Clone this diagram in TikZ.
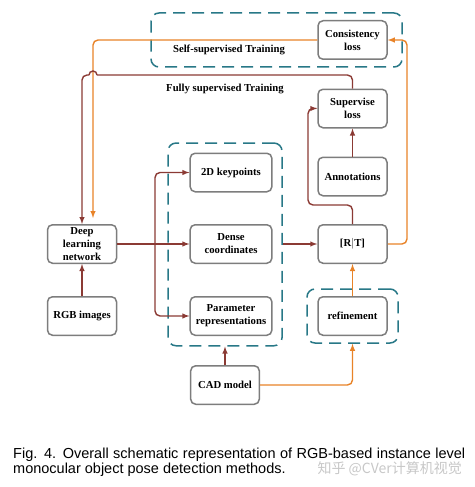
\documentclass[tikz,border=0pt]{standalone}
\usepackage{amssymb}
\usepackage{pgf, tikz}
\usepackage{xcolor}
\usepackage{fontspec}
\setmainfont{Liberation Serif}
\newfontfamily\capfont{Liberation Sans}
\newfontfamily\cjk{Noto Sans CJK SC}
\definecolor{brn}{RGB}{139,58,52}
\definecolor{orng}{RGB}{232,131,40}
\definecolor{tealdash}{RGB}{40,120,135}
\definecolor{bord}{RGB}{125,125,125}
\tikzset{
box/.style={draw=bord, line width=1.5pt, rounded corners=5pt, fill=white, minimum width=69pt, minimum height=38.5pt, inner sep=0pt, align=center, font=\bfseries\fontsize{10.7}{13}\selectfont},
grp/.style={draw=tealdash, line width=1.5pt, dash pattern=on 12pt off 7pt, rounded corners=8pt, inner sep=0pt},
brline/.style={draw=brn, line width=1.4pt, rounded corners=5pt},
orline/.style={draw=orng, line width=1.4pt, rounded corners=5pt},
lbl/.style={font=\bfseries\fontsize{10.7}{13}\selectfont}
}

\begin{document}
\begin{tikzpicture}[x=1pt,y=-1pt,>=latex]
\useasboundingbox (0,0) rectangle (474,487);

\node[grp, minimum width=251pt, minimum height=54pt](g1) at (276.5,40){};
\node[grp, minimum width=114pt, minimum height=202.7pt](g2) at (225,244.4){};
\node[grp, minimum width=91pt, minimum height=54pt](g3) at (352.5,316){};

\node[box](1) at (352.5,40){Consistency\\loss};
\node[box](2) at (352.5,108.5){Supervise\\loss};
\node[box](3) at (352.5,176.5){Annotations};
\node[box, minimum width=81.7pt](4) at (231,172.5){2D keypoints};
\node[box, minimum width=81.7pt](5) at (231,244){Dense\\coordinates};
\node[box, minimum width=81.7pt](6) at (231,316){Parameter\\representations};
\node[box](7) at (82,244){Deep\\learning\\network};
\node[box](8) at (82,316){RGB images};
\node[box](9) at (352.5,244){[R$|$T]};
\node[box](10) at (352.5,316){refinement};
\node[box, minimum width=68.6pt](11) at (225,385){CAD model};

\node[lbl](12) at (229,50){Self-supervised Training};
\node[lbl](13) at (225,88.5){Fully supervised Training};

\coordinate(h1) at (97,75);
\coordinate(h2) at (89,75);
\coordinate(c1) at (308,205);
\coordinate(c2) at (407,40);
\coordinate(b1) at (155,244);

\draw[orline,->,shorten >=6pt](1.west) -| ([xshift=11pt]7.north);
\draw[brline](2.north) |- (h1);
\draw[draw=brn, line width=1.4pt](h1) arc[start angle=0,end angle=180,radius=4pt];
\draw[brline,->](h2) -| (7.north);
\draw[brline,->](9.north) |- (c1) |- (2.west);
\draw[brline,->](3.north) -- (2.south);
\draw[brline,->](8.north) -- (7.south);
\draw[brline,->](7.east) -- (5.west);
\draw[brline,->](b1) |- (4.west);
\draw[brline,->](b1) |- (6.west);
\draw[brline,->](g2.east |- 9.west) -- (9.west);
\draw[brline,->](11.north) -- (11.north |- g2.south);
\draw[orline,->](9.east) -| (c2) -- (1.east);
\draw[orline,->](10.north) -- (9.south);
\draw[orline,->](11.east) -| (g3.south);

\node[anchor=base west, inner sep=0pt, font=\capfont\fontsize{14.5}{15}\selectfont](14) at (13,458){\makebox[452pt][s]{Fig. 4. Overall schematic representation of RGB-based instance level}};
\node[anchor=base west, inner sep=0pt, font=\capfont\fontsize{14.5}{15}\selectfont](15) at (13,473){monocular object pose detection methods.};
\node[anchor=base east, inner sep=0pt, text=black!22, font=\cjk\fontsize{14}{15}\selectfont](16) at (462,473){知乎 @CVer计算机视觉};

\end{tikzpicture}
\end{document}
